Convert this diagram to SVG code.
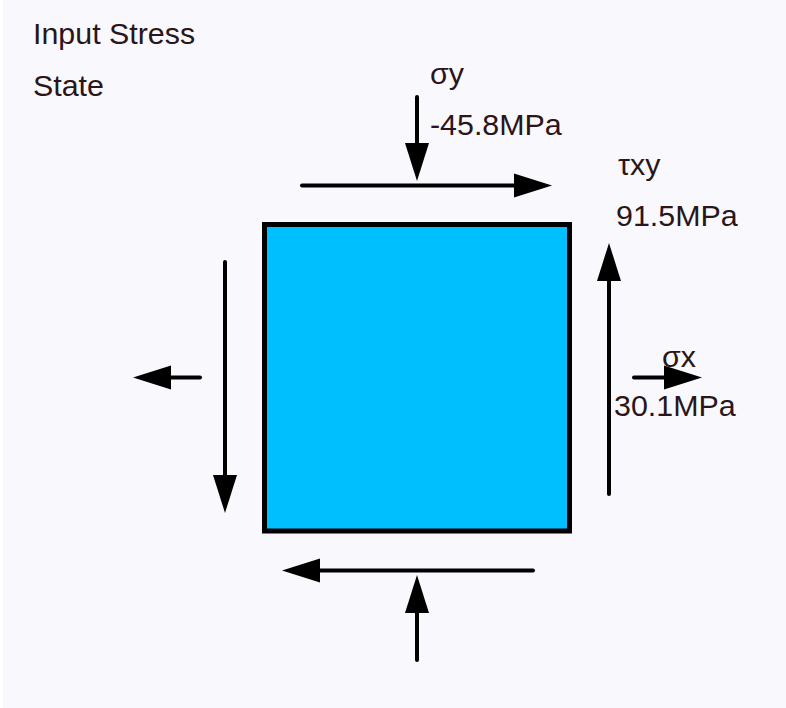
<svg xmlns="http://www.w3.org/2000/svg" width="786" height="708" viewBox="0 0 786 708">
<style>
.t{font-family:"Liberation Sans",Arial,sans-serif;font-size:30.4px;fill:#2a1518}
.l{stroke:#000;stroke-width:4;stroke-linecap:round;fill:none}
.h{fill:#000}
</style>
<rect width="786" height="708" fill="#fff"/>
<rect x="3" y="0" width="783" height="708" fill="#f9f8fd"/>
<g id="square"><rect x="264.500" y="224.500" width="305" height="306.500" fill="#00bfff" stroke="#000" stroke-width="5"/></g>
<g id="connectors">
<path class="l" d="M302 185.500H520"/><polygon class="h" points="552,185.500 514,173.500 514,197.500"/>
<path class="l" d="M417 97V150"/><polygon class="h" points="417,181 405,143 429,143"/>
<path class="l" d="M533 570.500H315"/><polygon class="h" points="282,570.500 320,558.500 320,582.500"/>
<path class="l" d="M417 660V608"/><polygon class="h" points="417,575 405,613 429,613"/>
<path class="l" d="M609 494V275"/><polygon class="h" points="609,243 597,281 621,281"/>
<path class="l" d="M225 262V480"/><polygon class="h" points="225,513 213,475 237,475"/>
<path class="l" d="M200 377.500H165"/><polygon class="h" points="133,377.500 171,365.500 171,389.500"/>
<path class="l" d="M634 377.500H670"/><polygon class="h" points="702,377.500 664,365.500 664,389.500"/>
</g>
<g id="labels">
<text class="t" x="33" y="44">Input Stress</text>
<text class="t" x="33" y="96">State</text>
<text class="t" x="430" y="84">σy</text>
<text class="t" x="430" y="135">-45.8MPa</text>
<text class="t" x="618" y="175">τxy</text>
<text class="t" x="616" y="226">91.5MPa</text>
<text class="t" x="662" y="367">σx</text>
<text class="t" x="614" y="416">30.1MPa</text>
</g>
</svg>
